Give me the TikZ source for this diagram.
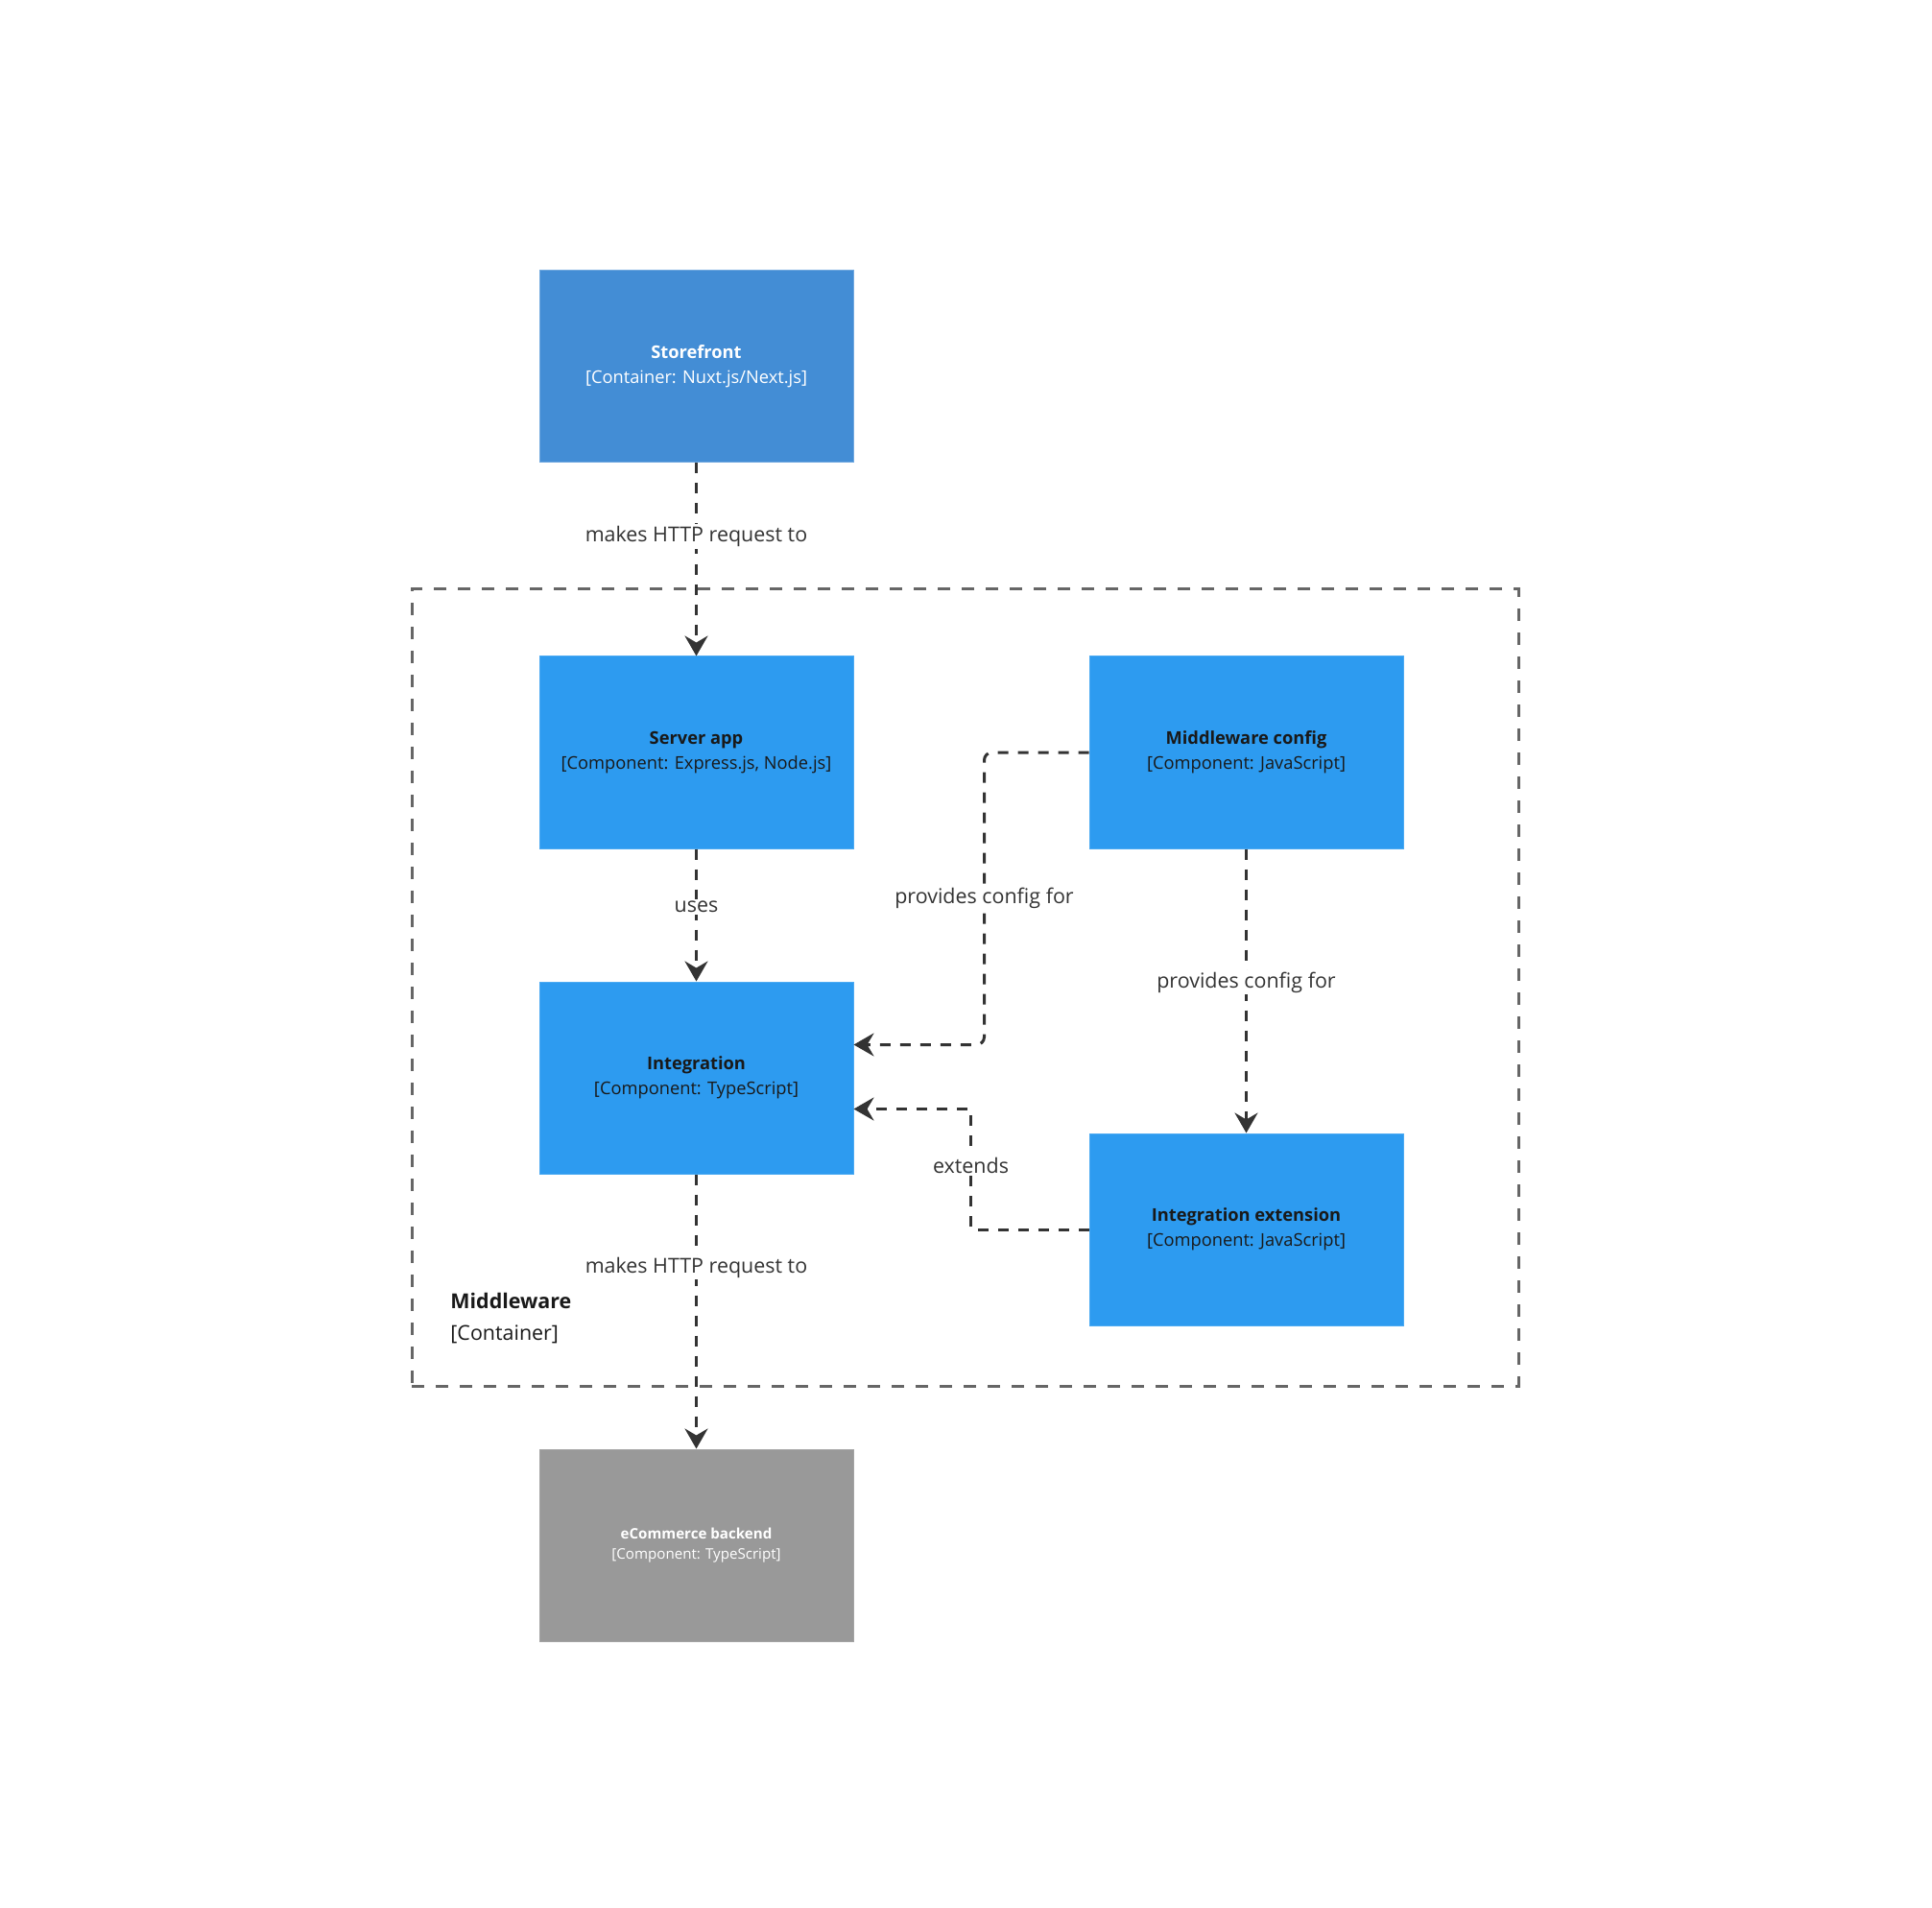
\documentclass[tikz,border=0pt]{standalone}
\usepackage{fontspec}
\setmainfont{Open Sans}
\usetikzlibrary{arrows.meta, positioning, quotes}
\definecolor{containerblue}{HTML}{438DD5}
\definecolor{componentblue}{HTML}{2D9BF0}
\definecolor{backendgray}{HTML}{999999}
\definecolor{linegray}{HTML}{333333}
\definecolor{boundarygray}{HTML}{666666}
\tikzstyle{every picture} = [node distance=2cm]
\tikzstyle{block} = [rectangle, minimum width=3.27cm, minimum height=2cm, align=center, inner sep=0pt, line width=0.01cm, font=\fontsize{5.2}{7.4}\selectfont]
\tikzstyle{containerbox} = [block, fill=containerblue, draw=containerblue!75!white, text=white]
\tikzstyle{componentbox} = [block, fill=componentblue, draw=componentblue!85!white, text=black!90]
\tikzstyle{externalbox} = [block, fill=backendgray, draw=backendgray!90!white, text=white, font=\fontsize{4.3}{6.1}\selectfont]
\tikzstyle{boundarybox} = [rectangle, draw=boundarygray, line width=0.03cm, dash pattern=on 0.13cm off 0.12cm, minimum width=11.53cm, minimum height=8.3cm, inner sep=0pt]
\tikzstyle{conn} = [draw=linegray, line width=0.03cm, dash pattern=on 0.11cm off 0.1cm, -{Stealth[length=0.21cm, width=0.24cm, inset=0.07cm]}]
\tikzstyle{lbl} = [fill=white, text=linegray, inner sep=0.02cm, font=\fontsize{6.1}{7.5}\selectfont]

\begin{document}
\begin{tikzpicture} [every edge quotes/.style={lbl}]
            \useasboundingbox (0,0) rectangle (20.13,-19.87);
            \node (node middleware) [boundarybox] at (10.055,-10.29) {};
            \node (node middleware label) [anchor=west, align=left, text=black!90, font=\fontsize{6.1}{9.4}\selectfont] at (4.57,-13.74) {\textbf{Middleware}\\ {[Container]}};

            \node (node storefront) [containerbox] at (7.255,-3.82) {\textbf{Storefront}\\ {[Container: Nuxt.js/Next.js]}};
            \node (node server) [componentbox,below=2.01cm of node storefront] {\textbf{Server app}\\ {[Component: Express.js, Node.js]}};
            \node (node integration) [componentbox,below=1.38cm of node server] {\textbf{Integration}\\ {[Component: TypeScript]}};
            \node (node backend) [externalbox,below=2.86cm of node integration] {\textbf{eCommerce backend}\\ {[Component: TypeScript]}};
            \node (node config) [componentbox,right=2.45cm of node server] {\textbf{Middleware config}\\ {[Component: JavaScript]}};
            \node (node extension) [componentbox,below=2.96cm of node config] {\textbf{Integration extension}\\ {[Component: JavaScript]}};

            \path (node storefront) edge[conn,"makes HTTP request to" pos=0.38] (node server)
                  (node server) edge[conn,"uses" pos=0.44] (node integration)
                  (node config) edge[conn,"provides config for" pos=0.47] (node extension)
                  (node integration) edge[conn,"makes HTTP request to" pos=0.34] (node backend);

            \draw[conn, rounded corners=0.08cm] (node config.west) -- ++(-1.09,0) |- node[lbl,pos=0.25] {provides config for} ([yshift=0.345cm]node integration.east);
            \draw[conn] (node extension.west) -- ++(-1.23,0) |- node[lbl,pos=0.266] {extends} ([yshift=-0.325cm]node integration.east);
        \end{tikzpicture}
\end{document}
